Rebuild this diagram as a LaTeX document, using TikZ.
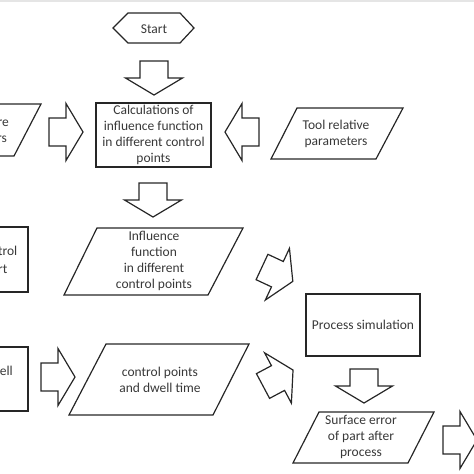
\documentclass[tikz,border=0pt]{standalone}
\usepackage{fontspec}
\setmainfont{Carlito}
\usetikzlibrary{calc}

\begin{document}
\begin{tikzpicture}[%
x=1pt, y=-1pt,
frame/.style={draw=black!85, line width=1.2pt, line join=miter},
label/.style={text=black!78, font=\fontsize{13.5}{16}\selectfont, align=center, inner sep=0pt},
barrow/.pic={\draw[frame] (0,-14) -- (17,-14) -- (17,-28.5) -- (34,0) -- (17,28.5) -- (17,14) -- (0,14) -- cycle;},
]
\useasboundingbox (0,0) rectangle (474,474);
\clip (0,0) rectangle (474,474);
\fill[black!10] (0,0) rectangle (474,2);
%% start;
\draw[frame] (113,28) -- (128,13) -- (180,13) -- (194,28) -- (180,43) -- (128,43) -- cycle;
\node[label] (start) at (154,29) {Start};
%% calculations;
\node[frame, label, minimum width=115pt, minimum height=64pt] (calc) at (153.5,135) {Calculations of\\influence function\\in different control\\points};
%% tool parameters;
\draw[frame] (297,108) -- (403,108) -- (376,159) -- (271,159) -- cycle;
\node[label] (tool) at (336,134) {Tool relative\\parameters};
%% left input, cut off;
\draw[frame] (-60,104) -- (41,104) -- (14,156) -- (-60,156) -- cycle;
\node[label, anchor=east] (inA) at (9,123) {re};
\node[label, anchor=east] (inB) at (7,139) {rs};
%% influence function;
\draw[frame] (97,228) -- (243,228) -- (208,295) -- (64,295) -- cycle;
\node[label] (infl) at (154,260.5) {Influence\\function\\in different\\control points};
%% control part, cut off;
\draw[frame] (-60,227) rectangle (28,292);
\node[label, anchor=east] (ctlA) at (17.5,251) {trol};
\node[label, anchor=east] (ctlB) at (7.5,269) {rt};
%% dwell, cut off;
\draw[frame] (-60,347) rectangle (28,411);
\node[label, anchor=east] (dwl) at (13,371) {ell};
%% control points and dwell time;
\draw[frame] (106,344) -- (249,344) -- (213,415) -- (69,415) -- cycle;
\node[label] (cpdw) at (160,380) {control points\\and dwell time};
%% process simulation;
\node[frame, label, minimum width=114pt, minimum height=62pt] (sim) at (363,325) {Process simulation};
%% surface error;
\draw[frame] (319,412) -- (434,412) -- (408,463) -- (293,463) -- cycle;
\node[label] (surf) at (361,437) {Surface error\\of part after\\process};
%% arrows;
\pic[rotate=-90] at (154,61) {barrow};
\pic[rotate=-90] at (153,183) {barrow};
\pic[rotate=-90] at (364,369) {barrow};
\pic at (49,132) {barrow};
\pic[rotate=180] at (259,132) {barrow};
\pic at (41,377) {barrow};
\pic at (443,440) {barrow};
\pic[rotate=-25] at (262,267) {barrow};
\pic[rotate=28] at (263,386) {barrow};
\end{tikzpicture}
\end{document}
